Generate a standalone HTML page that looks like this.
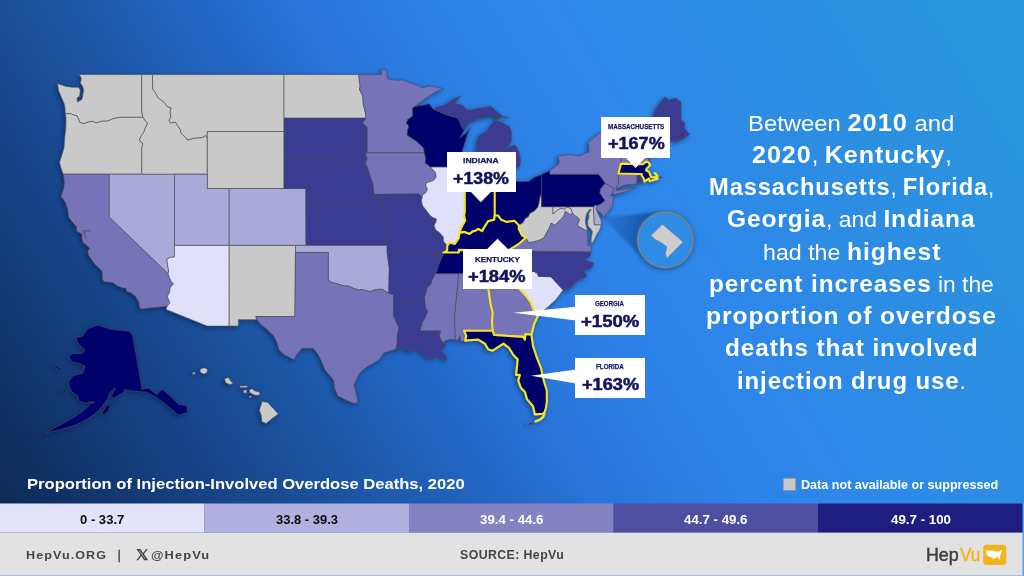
<!DOCTYPE html>
<html lang="en"><head><meta charset="utf-8"><title>HepVu – Injection-Involved Overdose Deaths, 2020</title>
<style>
html,body{margin:0;padding:0}
body{width:1024px;height:576px;overflow:hidden;position:relative;font-family:"Liberation Sans",sans-serif;background:#2a80e0}
#bg{position:absolute;left:0;top:0;width:1024px;height:576px;
 background:linear-gradient(59deg,#0b2450 0%,#0e2b5a 4%,#143c7a 15%,#1a4f99 26%,#2367c6 40%,#2975d9 47%,#2c80e5 55%,#2e86ea 63%,#2c8de2 79%,#2a98dc 100%);}
svg#map{position:absolute;left:0;top:0}
.t{position:absolute;white-space:nowrap;line-height:1;transform-origin:0 0}
.r{font-weight:400;font-size:22.5px;letter-spacing:0}
.cb{position:absolute;background:#fff;color:#15155e;text-align:center;font-weight:700}
</style></head><body>
<div id="bg"></div>
<svg id="map" width="1024" height="576" viewBox="0 0 1024 576">
<defs>
<filter id="sh" x="-5%" y="-5%" width="110%" height="110%"><feDropShadow dx="-1.5" dy="1.5" stdDeviation="2.2" flood-color="#061a45" flood-opacity=".6"/></filter>
<linearGradient id="wedge" x1="0" y1="0" x2="1" y2="0"><stop offset="0" stop-color="#0c2a66" stop-opacity=".12"/><stop offset="1" stop-color="#0c2a66" stop-opacity=".6"/></linearGradient>
<filter id="bl" x="-10%" y="-10%" width="120%" height="120%"><feGaussianBlur stdDeviation=".9"/></filter>
<filter id="sh2" x="-30%" y="-30%" width="160%" height="160%"><feDropShadow dx="-.6" dy="1" stdDeviation="2.4" flood-color="#06224f" flood-opacity=".65"/></filter>
</defs>
<g filter="url(#sh)">
<g stroke="#4a4a55" stroke-width="0.6" stroke-linejoin="round">
<path d="M79.1,74.6 141.7,74.6 141.7,111.3 143.0,117.3 120.2,117.3 113.7,118.5 107.1,121.2 102.2,121.2 96.2,122.9 92.9,121.3 88.5,121.9 84.1,123.7 79.5,122.3 78.6,119.2 77.0,115.9 74.3,115.2 70.4,113.6 65.3,113.8 65.0,108.1 64.2,103.8 61.7,98.1 58.4,90.3 57.6,83.5 65.5,86.3 72.1,87.2 78.6,87.2 80.3,90.3 79.7,96.0 77.0,98.1 77.5,102.0 81.9,99.5 82.8,95.3 83.6,90.3 82.5,86.0 80.3,83.2 81.4,78.2Z" fill="#c9c9c9"/>
<path d="M65.3,113.8 70.4,113.6 74.3,115.2 77.0,115.9 78.6,119.2 79.5,122.3 84.1,123.7 88.5,121.9 92.9,121.3 96.2,122.9 102.2,121.2 107.1,121.2 113.7,118.5 120.2,117.3 143.0,117.3 144.6,119.9 147.6,123.0 145.4,128.0 143.8,132.3 141.6,135.1 139.7,139.4 140.5,141.8 142.9,143.2 141.8,148.2 141.8,174.2 109.3,174.2 63.2,174.2 61.1,168.5 59.5,162.3 61.7,155.7 64.1,147.2 64.7,137.2 65.8,128.7 66.0,118.7Z" fill="#c9c9c9"/>
<path d="M63.2,174.2 109.3,174.2 109.3,216.9 168.1,273.8 170.8,281.0 173.5,283.8 170.3,287.4 169.3,292.8 167.3,296.6 169.9,302.7 167.1,306.3 140.8,309.0 139.4,306.6 138.9,302.3 135.6,296.6 130.1,292.3 126.8,291.6 125.7,288.1 122.4,288.1 117.5,285.9 112.6,282.4 104.2,281.7 102.4,279.5 102.2,271.7 100.0,268.9 95.1,264.6 88.5,255.4 87.9,251.1 89.6,248.2 87.4,246.1 83.0,242.5 81.9,238.3 81.9,234.0 76.7,231.2 76.5,226.9 68.8,217.6 67.7,209.8 65.5,202.7 61.1,196.4 63.9,187.8 64.4,181.4Z" fill="#7673b8"/>
<path d="M109.3,174.2 141.8,174.2 174.6,174.2 174.5,245.4 174.5,256.8 170.6,257.5 166.9,258.9 167.6,265.3 168.8,271.0 168.1,273.8 109.3,216.9Z" fill="#aaaad9"/>
<path d="M141.7,74.6 152.6,74.6 152.6,88.9 155.8,93.1 157.7,97.4 164.6,102.7 167.3,106.6 171.3,108.1 170.1,111.6 170.8,117.3 169.0,120.9 170.6,123.0 175.5,122.2 177.7,125.9 180.5,129.8 181.0,133.0 185.4,137.2 187.6,140.1 194.2,138.1 202.4,137.5 205.7,135.4 207.3,138.7 207.3,174.2 174.6,174.2 141.8,174.2 141.8,148.2 142.9,143.2 140.5,141.8 139.7,139.4 141.6,135.1 143.8,132.3 145.4,128.0 147.6,123.0 144.6,119.9 143.0,117.3 141.7,111.3Z" fill="#c9c9c9"/>
<path d="M152.6,74.6 284.0,74.6 284.0,118.2 284.0,131.5 207.3,131.5 207.3,138.7 205.7,135.4 202.4,137.5 194.2,138.1 187.6,140.1 185.4,137.2 181.0,133.0 180.5,129.8 177.7,125.9 175.5,122.2 170.6,123.0 169.0,120.9 170.8,117.3 170.1,111.6 171.3,108.1 167.3,106.6 164.6,102.7 157.7,97.4 155.8,93.1 152.6,88.9Z" fill="#c9c9c9"/>
<path d="M207.3,138.7 207.3,131.5 284.0,131.5 284.0,160.0 284.0,188.5 229.2,188.5 207.3,188.5 207.3,174.2Z" fill="#c9c9c9"/>
<path d="M174.6,174.2 207.3,174.2 207.3,188.5 229.2,188.5 229.2,245.4 174.5,245.4Z" fill="#aaaad9"/>
<path d="M174.5,245.4 229.2,245.4 229.2,326.1 207.1,326.1 166.1,309.4 167.1,306.3 169.9,302.7 167.3,296.6 169.3,292.8 170.3,287.4 173.5,283.8 170.8,281.0 168.1,273.8 168.8,271.0 167.6,265.3 166.9,258.9 170.6,257.5 174.5,256.8Z" fill="#e0e0fa"/>
<path d="M229.2,188.5 284.0,188.5 305.9,188.5 305.9,202.7 306.0,245.4 295.5,245.4 229.2,245.4Z" fill="#aaaad9"/>
<path d="M229.2,245.4 295.5,245.4 295.5,252.5 294.9,316.5 255.8,316.5 256.8,319.7 238.4,319.7 238.4,326.1 229.2,326.1Z" fill="#c9c9c9"/>
<path d="M284.0,74.6 358.6,74.6 360.1,86.0 359.5,89.6 362.8,96.0 363.3,104.5 365.5,113.1 366.0,118.2 284.0,118.2Z" fill="#c9c9c9"/>
<path d="M284.0,118.2 366.0,118.2 362.8,123.0 367.2,127.3 367.2,152.9 365.5,153.6 367.2,158.6 365.5,162.9 367.2,167.1 362.2,164.0 356.8,161.9 350.2,163.3 344.7,160.0 284.0,160.0 284.0,131.5Z" fill="#3b3a92"/>
<path d="M284.0,160.0 344.7,160.0 350.2,163.3 356.8,161.9 362.2,164.0 367.2,167.1 368.8,171.4 371.0,178.5 373.2,184.2 373.7,189.9 374.6,194.4 377.0,198.4 379.7,202.7 305.9,202.7 305.9,188.5 284.0,188.5Z" fill="#3b3a92"/>
<path d="M305.9,202.7 379.7,202.7 384.1,206.3 382.0,209.1 384.1,211.9 387.3,215.5 387.2,245.4 306.0,245.4Z" fill="#3b3a92"/>
<path d="M306.0,245.4 387.2,245.4 387.2,252.5 389.3,268.2 388.7,293.2 382.0,289.2 376.5,289.5 369.9,291.6 365.5,290.5 361.7,289.5 359.0,290.2 353.5,288.4 349.1,286.2 343.6,285.9 337.1,283.8 331.6,282.4 328.3,280.1 328.3,252.5 295.5,252.5 295.5,245.4Z" fill="#aaaad9"/>
<path d="M295.5,252.5 328.3,252.5 328.3,280.1 331.6,282.4 337.1,283.8 343.6,285.9 349.1,286.2 353.5,288.4 359.0,290.2 361.7,289.5 365.5,290.5 369.9,291.6 376.5,289.5 382.0,289.2 388.7,293.2 393.6,294.5 393.6,302.0 393.6,316.5 395.6,320.1 398.9,327.9 397.3,336.5 397.3,343.6 395.8,349.3 388.5,351.4 384.1,352.8 379.8,359.2 373.2,363.5 366.6,367.1 360.6,372.0 357.3,377.7 354.0,384.8 356.8,396.2 357.9,402.9 353.5,403.3 346.9,400.5 338.2,396.2 334.3,387.7 333.8,380.6 325.0,369.9 321.2,360.7 317.9,354.2 313.0,348.3 302.0,348.3 297.1,354.2 293.8,359.7 284.5,355.0 279.0,350.0 276.8,342.2 273.5,335.8 267.0,329.6 260.4,324.1 256.8,319.7 255.8,316.5 294.9,316.5Z" fill="#7673b8"/>
<path d="M358.6,74.6 381.4,74.6 381.4,69.2 386.3,70.4 387.4,78.9 396.2,80.3 402.8,79.9 410.4,83.2 415.9,84.6 422.5,87.9 429.0,86.0 437.8,87.4 443.4,88.7 434.5,92.4 426.9,97.4 419.2,103.1 414.8,106.6 412.7,107.9 412.7,116.3 407.7,119.5 406.3,123.0 408.8,125.9 407.7,130.1 407.1,135.1 412.6,138.7 417.0,141.5 423.6,147.9 424.4,152.9 367.2,152.9 367.2,127.3 362.8,123.0 366.0,118.2 365.5,113.1 363.3,104.5 362.8,96.0 359.5,89.6 360.1,86.0Z" fill="#7673b8"/>
<path d="M367.2,152.9 424.4,152.9 425.8,158.6 425.2,162.9 430.7,167.1 435.6,172.8 436.2,177.1 433.4,180.6 426.3,182.8 425.8,185.6 427.4,189.2 425.8,192.7 422.5,194.9 422.3,197.3 418.9,194.0 374.6,194.4 373.7,189.9 373.2,184.2 371.0,178.5 368.8,171.4 367.2,167.1 365.5,162.9 367.2,158.6 365.5,153.6Z" fill="#7673b8"/>
<path d="M374.6,194.4 418.9,194.0 422.3,197.3 421.4,199.9 421.9,203.4 423.0,206.3 426.3,210.5 430.1,215.5 432.9,217.6 436.5,219.1 435.8,222.2 434.0,225.5 435.6,229.7 439.4,232.6 443.3,236.9 443.3,241.1 447.3,245.7 447.1,250.4 444.4,252.5 443.3,252.5 442.7,256.1 441.1,259.6 433.7,259.6 436.2,252.5 387.2,252.5 387.2,245.4 387.3,215.5 384.1,211.9 382.0,209.1 384.1,206.3 379.7,202.7 377.0,198.4Z" fill="#3b3a92"/>
<path d="M387.2,252.5 436.2,252.5 433.7,259.6 441.1,259.6 438.3,266.0 436.7,272.0 434.5,273.8 434.5,276.0 431.8,280.3 431.2,283.8 426.9,288.1 425.8,293.8 424.7,296.6 425.0,302.3 393.6,302.0 393.6,294.5 388.7,293.2 389.3,268.2Z" fill="#3b3a92"/>
<path d="M393.6,302.0 425.0,302.3 425.8,308.0 427.9,311.6 425.8,316.5 422.5,322.2 421.4,326.5 420.0,330.8 440.8,330.8 439.4,335.8 441.6,340.7 443.1,342.4 441.6,342.9 445.5,344.3 444.4,347.8 440.5,350.0 442.2,352.8 445.5,355.0 447.1,359.2 444.4,359.9 438.3,355.0 435.6,357.8 427.9,358.5 423.6,355.0 417.5,348.6 414.8,350.7 409.3,351.0 402.8,348.3 395.8,349.3 397.3,343.6 397.3,336.5 398.9,327.9 395.6,320.1 393.6,316.5Z" fill="#3b3a92"/>
<path d="M433.2,109.2 429.0,103.8 424.7,104.9 414.8,106.6 412.7,107.9 412.7,116.3 407.7,119.5 406.3,123.0 408.8,125.9 407.7,130.1 407.1,135.1 412.6,138.7 417.0,141.5 423.6,147.9 424.4,152.9 425.8,158.6 425.2,162.9 430.7,167.1 461.9,167.1 460.8,157.2 463.0,148.6 465.2,141.5 467.4,134.4 470.6,127.3 466.3,133.0 459.7,138.0 464.1,130.1 461.3,125.9 458.1,118.0 447.7,115.3Z" fill="#05056b"/>
<path d="M430.7,167.1 461.9,167.1 464.1,176.4 464.8,178.5 464.8,211.9 464.1,215.5 465.2,220.5 462.4,225.5 459.7,231.2 459.2,234.0 458.6,238.3 454.8,244.0 449.8,242.5 447.3,245.7 443.3,241.1 443.3,236.9 439.4,232.6 435.6,229.7 434.0,225.5 435.8,222.2 436.5,219.1 432.9,217.6 430.1,215.5 426.3,210.5 423.0,206.3 421.9,203.4 421.4,199.9 422.3,197.3 422.5,194.9 425.8,192.7 427.4,189.2 425.8,185.6 426.3,182.8 433.4,180.6 436.2,177.1 435.6,172.8Z" fill="#e0e0fa"/>
<path d="M509.5,178.1 512.3,174.2 513.4,170.7 515.5,169.3 519.9,165.7 520.5,160.0 518.8,151.5 515.0,144.8 510.1,147.2 504.6,150.8 511.2,141.5 511.2,131.5 509.5,126.6 501.3,122.6 495.3,120.5 492.6,123.0 488.7,128.0 486.5,134.4 486.0,131.5 478.9,135.8 476.7,145.8 476.1,151.5 478.9,164.3 476.1,172.8 472.6,177.7 494.7,177.7ZM433.2,109.2 447.7,115.3 458.1,118.0 461.3,125.9 464.1,130.1 466.8,125.9 470.1,121.3 473.4,121.9 475.6,119.2 478.6,118.7 482.7,118.0 488.2,116.2 492.6,117.3 496.4,119.2 500.2,117.7 504.0,117.7 508.4,117.3 503.5,116.8 500.2,114.2 496.7,111.6 493.2,108.5 491.5,106.5 484.2,107.4 475.8,108.8 471.7,110.2 466.2,109.4 463.0,105.5 459.7,104.5 455.0,103.9 457.1,99.7 461.2,96.3 456.4,97.7 452.3,99.7 447.7,103.4 443.9,105.4 438.9,106.6Z" fill="#3b3a92"/>
<path d="M494.7,177.7 509.5,178.1 514.5,181.4 517.7,181.4 525.4,181.4 528.7,181.4 534.2,177.4 541.6,174.5 541.6,193.6 540.2,197.0 539.1,202.7 538.0,207.0 534.2,211.2 530.3,213.1 528.1,216.9 525.4,218.4 523.2,222.6 518.8,225.2 514.5,220.8 506.8,221.9 501.3,219.8 498.0,215.5 494.7,215.5Z" fill="#05056b"/>
<path d="M443.3,252.5 458.9,252.5 458.9,249.9 507.0,251.1 528.9,251.2 526.5,255.4 523.2,257.5 518.8,258.9 515.5,260.3 513.4,262.9 509.0,265.7 503.5,268.2 500.2,271.0 500.0,273.8 486.0,273.8 457.5,273.8 434.5,273.8 436.7,272.0 438.3,266.0 441.1,259.6 442.7,256.1Z" fill="#05056b"/>
<path d="M434.5,273.8 457.5,273.8 458.6,275.3 454.6,318.0 455.3,339.7 450.4,339.3 445.5,340.7 443.1,342.4 441.6,340.7 439.4,335.8 440.8,330.8 420.0,330.8 421.4,326.5 422.5,322.2 425.8,316.5 427.9,311.6 425.8,308.0 425.0,302.3 424.7,296.6 425.8,293.8 426.9,288.1 431.2,283.8 431.8,280.3 434.5,276.0Z" fill="#7673b8"/>
<path d="M457.5,273.8 486.0,273.8 490.6,304.2 492.6,312.3 492.0,322.2 492.6,330.8 464.1,330.8 466.3,335.8 465.2,340.7 460.8,341.4 459.7,335.8 458.6,340.0 455.3,339.7 454.6,318.0 458.6,275.3Z" fill="#7673b8"/>
<path d="M513.4,273.8 521.0,271.0 535.8,271.7 535.8,273.1 537.1,272.4 538.5,276.4 550.9,276.7 563.2,289.9 556.1,299.5 548.4,306.6 542.4,311.6 538.0,315.8 534.7,313.7 530.9,302.3 525.4,295.2 518.8,288.1 513.4,281.0 510.6,278.1Z" fill="#e0e0fa"/>
<path d="M528.9,251.2 590.8,251.8 590.1,256.1 584.1,259.8 593.2,262.8 593.2,265.9 589.6,268.9 583.4,271.0 587.0,276.1 584.5,277.8 578.6,279.8 573.6,284.5 568.9,289.5 563.2,289.9 550.9,276.7 538.5,276.4 537.1,272.4 535.8,273.1 535.8,271.7 521.0,271.0 513.4,273.8 500.0,273.8 500.2,271.0 503.5,268.2 509.0,265.7 513.4,262.9 515.5,260.3 518.8,258.9 523.2,257.5 526.5,255.4Z" fill="#3b3a92"/>
<path d="M507.0,251.1 517.7,244.7 525.7,237.7 528.9,242.5 533.8,241.8 538.0,240.4 541.8,239.0 544.0,237.6 547.3,231.2 549.5,227.3 551.1,223.0 555.0,225.2 559.7,220.2 563.2,216.9 565.4,211.2 571.1,215.1 572.2,212.4 574.7,215.5 578.0,217.4 579.7,219.8 577.4,225.5 580.7,227.6 587.6,231.2 587.8,238.3 587.8,245.4 591.3,246.8 590.8,251.8 528.9,251.2Z" fill="#7673b8"/>
<path d="M518.8,225.2 523.2,222.6 525.4,218.4 528.1,216.9 530.3,213.1 534.2,211.2 538.0,207.0 539.1,202.7 540.2,197.0 541.6,193.6 541.6,206.7 553.0,206.7 553.0,214.1 557.2,210.2 560.9,208.1 564.3,209.1 567.2,207.0 570.8,208.4 572.2,212.4 571.1,215.1 565.4,211.2 563.2,216.9 559.7,220.2 555.0,225.2 551.1,223.0 549.5,227.3 547.3,231.2 544.0,237.6 541.8,239.0 538.0,240.4 533.8,241.8 528.9,242.5 525.7,237.7 522.1,235.4 518.8,229.0Z" fill="#c9c9c9"/>
<path d="M553.0,206.7 593.4,206.7 594.4,224.8 601.5,224.8 599.3,230.7 597.9,232.6 595.5,236.9 593.5,241.1 591.9,243.7 591.1,241.8 591.3,237.6 592.4,231.9 590.9,229.0 588.0,226.2 587.6,221.2 588.9,217.6 588.7,213.4 591.1,209.8 590.0,209.1 586.5,214.1 585.8,217.6 585.4,222.6 586.5,226.9 587.6,231.2 580.7,227.6 577.4,225.5 579.7,219.8 578.0,217.4 574.7,215.5 572.2,212.4 570.8,208.4 567.2,207.0 564.3,209.1 560.9,208.1 557.2,210.2 553.0,214.1Z" fill="#c9c9c9"/>
<path d="M593.4,206.7 595.5,205.1 597.5,205.5 596.0,208.4 597.7,212.7 601.0,219.8 601.5,224.8 594.4,224.8Z" fill="#aaaad9"/>
<path d="M605.3,183.3 601.3,177.5 598.2,174.2 549.9,174.2 549.9,170.4 541.6,174.5 541.6,193.6 541.6,206.7 553.0,206.7 593.4,206.7 595.5,205.1 597.5,205.5 601.0,204.1 605.1,200.6 602.6,197.0 599.9,193.0 600.6,188.9Z" fill="#05056b"/>
<path d="M605.3,183.3 600.6,188.9 599.9,193.0 602.6,197.0 605.1,200.6 601.0,204.1 597.5,205.5 596.0,207.7 596.6,209.8 602.0,214.1 603.1,217.9 608.6,211.2 612.5,205.5 613.0,196.3 610.3,195.6 612.5,193.5 614.1,188.5Z" fill="#7673b8"/>
<path d="M620.1,131.5 604.8,131.5 598.8,133.7 587.8,142.9 588.9,144.4 588.9,152.2 585.6,152.9 580.1,156.0 569.2,154.7 557.7,156.3 559.3,161.4 558.2,164.3 549.9,170.4 549.9,174.2 598.2,174.2 601.3,177.5 605.3,183.3 614.1,188.5 613.0,192.7 613.0,194.4 615.7,194.2 625.0,192.0 636.0,187.5 630.5,188.5 628.3,188.8 621.8,189.5 615.7,190.6 616.8,188.5 616.0,187.0 618.7,184.2 618.5,173.5 621.0,163.6 621.2,152.2 620.7,150.8 619.6,138.7Z" fill="#7673b8"/>
<path d="M618.5,173.5 637.1,174.0 637.1,182.8 636.5,183.9 625.0,184.9 616.8,188.5 616.0,187.0 618.7,184.2Z" fill="#7673b8"/>
<path d="M637.1,174.0 641.7,174.0 641.7,175.7 643.7,178.5 644.5,181.4 641.5,182.1 636.5,183.9 637.1,182.8Z" fill="#3b3a92"/>
<path d="M620.1,131.5 640.4,131.5 639.3,138.7 634.4,144.4 631.6,151.5 630.0,160.0 628.9,163.9 621.0,163.6 621.2,152.2 620.7,150.8 619.6,138.7Z" fill="#7673b8"/>
<path d="M640.4,131.5 642.6,127.3 645.0,127.3 645.9,138.7 646.2,154.3 648.0,158.6 649.1,159.0 647.8,161.9 645.9,161.9 642.6,164.3 628.9,163.9 630.0,160.0 631.6,151.5 634.4,144.4 639.3,138.7Z" fill="#7673b8"/>
<path d="M645.0,127.3 652.4,120.2 654.1,113.1 656.8,107.4 665.2,96.5 668.8,100.5 675.4,98.0 680.9,102.1 680.9,120.2 684.7,123.0 684.7,128.7 689.6,134.4 683.1,138.7 676.5,141.5 669.9,140.1 667.8,144.4 659.0,149.3 654.6,151.5 651.3,155.7 649.1,159.0 648.0,158.6 646.2,154.3 645.9,138.7Z" fill="#3b3a92"/>
<path d="M97.9,325.0 110.2,329.1 129.4,331.3 132.7,336.0 142.2,389.3 148.5,387.9 156.7,394.8 162.2,389.3 171.8,397.5 178.6,404.3 186.8,405.7 187.4,412.5 178.6,415.3 169.0,407.1 162.2,401.6 154.0,396.1 145.8,392.0 137.6,391.5 129.4,390.7 125.3,389.3 122.5,393.4 117.1,396.1 113.0,398.9 111.6,394.8 115.7,387.9 110.2,392.0 107.5,398.9 102.6,405.7 99.3,410.1 92.5,415.6 85.6,419.9 76.6,424.6 67.9,427.6 58.8,430.0 46.3,432.5 56.9,426.5 66.5,421.6 76.6,415.6 84.3,409.8 90.8,403.8 94.4,402.4 92.5,401.6 85.6,403.0 78.8,401.6 77.4,396.1 72.0,392.0 69.2,386.6 68.7,381.6 73.3,375.6 82.9,373.4 84.8,366.1 78.8,363.3 72.0,362.0 68.7,356.5 73.3,353.2 81.5,353.8 85.1,350.5 81.5,346.9 77.4,342.3 76.1,337.3 82.9,336.0 87.0,329.1ZM102.0,412.5 107.5,404.3 110.2,406.3 108.1,411.2 103.4,415.3ZM54.7,365.5 61.0,368.2 60.5,370.2 55.0,367.4ZM62.9,389.8 66.5,389.8 66.5,391.8 62.9,391.8Z" fill="#05056b"/>
<path d="M200.5,368.8 204.6,367.7 207.6,369.6 206.8,372.9 203.2,374.0 199.9,371.8ZM192.3,372.9 195.0,371.8 195.3,373.4 192.8,374.8ZM224.5,378.9 228.4,377.3 231.1,381.6 233.3,383.3 230.0,384.7 225.6,382.7ZM239.6,386.0 247.0,385.7 247.5,387.4 240.4,387.7ZM243.4,390.1 246.7,390.1 246.7,392.9 243.7,392.9ZM249.1,389.8 252.4,388.8 254.6,390.9 259.5,392.0 260.1,394.8 255.7,395.6 252.4,393.9 249.7,392.6ZM249.1,396.1 251.6,395.9 251.6,397.5 249.4,397.8ZM262.0,401.6 267.5,402.2 278.4,413.9 272.9,418.0 266.1,423.5 261.7,421.6 261.2,415.3 259.3,410.6Z" fill="#c9c9c9"/>
<path d="M82.4,230.8 L90.6,230.8 M83.8,231.4 L86.3,238.4" fill="none" stroke-width=".8"/>
<g fill="#7a1f2a" stroke="none"><ellipse cx="656.2" cy="176.2" rx="1.6" ry=".8"/><ellipse cx="660.6" cy="177.3" rx="1.5" ry=".8"/><ellipse cx="682.3" cy="134.5" rx="1" ry="1.4"/><ellipse cx="530.7" cy="423.8" rx="2.2" ry=".9" transform="rotate(-25 530.7 423.8)"/><circle cx="524.2" cy="425.2" r=".6"/></g>
<g fill="#05056b" stroke-width=".4"><ellipse cx="44" cy="432.6" rx="2" ry=".6"/><ellipse cx="38.5" cy="433.6" rx="1.6" ry=".5"/><ellipse cx="32.5" cy="434.3" rx="1.6" ry=".5"/><ellipse cx="28" cy="434.6" rx="1.2" ry=".5"/></g>
</g>
<g stroke="#f6e71b" stroke-width="2.1" stroke-linejoin="round">
<path d="M472.6,177.7 494.7,177.7 494.7,215.5 494.2,219.8 488.2,221.2 484.3,227.3 482.1,231.2 478.3,229.0 476.1,230.4 472.8,231.4 469.6,234.0 464.1,231.9 460.8,232.6 459.2,234.0 459.7,231.2 462.4,225.5 465.2,220.5 464.1,215.5 464.8,211.9 464.8,178.5 468.5,179.2Z" fill="#05056b"/>
<path d="M459.2,234.0 460.8,232.6 464.1,231.9 469.6,234.0 472.8,231.4 476.1,230.4 478.3,229.0 482.1,231.2 484.3,227.3 488.2,221.2 494.2,219.8 494.7,215.5 498.0,215.5 501.3,219.8 506.8,221.9 514.5,220.8 518.8,225.2 518.8,229.0 522.1,235.4 525.7,237.7 517.7,244.7 507.0,251.1 458.9,249.9 458.9,252.5 443.3,252.5 444.4,252.5 447.1,250.4 447.3,245.7 449.8,242.5 454.8,244.0 458.6,238.3Z" fill="#05056b"/>
<path d="M621.0,163.6 628.9,163.9 642.6,164.3 645.9,161.9 647.8,161.9 650.2,165.0 646.9,168.5 645.9,170.0 649.1,172.1 650.2,175.0 651.3,177.4 656.8,177.1 655.7,173.5 654.6,173.1 657.3,175.7 657.3,178.9 649.7,181.1 649.1,178.5 644.5,181.4 643.7,178.5 641.7,175.7 641.7,174.0 637.1,174.0 618.5,173.5Z" fill="#05056b"/>
<path d="M486.0,273.8 500.0,273.8 513.4,273.8 510.6,278.1 513.4,281.0 518.8,288.1 525.4,295.2 530.9,302.3 534.7,313.7 538.0,315.8 534.2,323.7 531.4,334.8 525.4,334.3 524.9,339.7 523.2,336.9 494.1,335.0 492.6,330.8 492.0,322.2 492.6,312.3 490.6,304.2Z" fill="#7673b8"/>
<path d="M465.2,340.7 466.3,335.8 464.1,330.8 492.6,330.8 494.1,335.0 523.2,336.9 524.9,339.7 525.4,334.3 531.4,334.8 533.1,346.4 537.4,359.2 540.9,367.8 543.7,380.6 546.8,390.5 546.9,401.2 546.0,407.6 544.8,411.7 542.9,413.7 534.9,414.4 533.1,406.2 527.0,399.1 525.0,392.0 520.8,387.7 518.3,380.6 519.9,374.9 516.1,374.9 517.2,364.9 517.7,359.2 513.4,355.0 509.0,347.8 503.5,343.6 499.1,346.4 492.6,350.7 488.2,349.3 484.9,343.6 478.3,339.6 468.5,340.3Z" fill="#05056b"/>
<path d="M544.4,413.6 Q543.6,419 535.8,421.3" fill="none" stroke-width="2.3" stroke-linecap="round"/>
</g></g>
<!-- legend + footer -->
<rect x="783.2" y="478.2" width="12.6" height="12.4" rx="1.2" fill="#c9c9c9" stroke="#8b8f96" stroke-width=".9"/>
<g>
<rect x="0" y="503.5" width="204.5" height="29.2" fill="#e3e3fb"/>
<rect x="204.5" y="503.5" width="204.5" height="29.2" fill="#b1b0de"/>
<rect x="409" y="503.5" width="204.5" height="29.2" fill="#8482c0"/>
<rect x="613.5" y="503.5" width="204.5" height="29.2" fill="#504e9e"/>
<rect x="818" y="503.5" width="204.7" height="29.2" fill="#1f1e80"/>
<rect x="0" y="532.7" width="1022.7" height="42.3" fill="#e2e2e2"/>
<rect x="0" y="575" width="1024" height="1" fill="#a6bfdf"/>
<rect x="1022.7" y="503.5" width="1.3" height="72.5" fill="#63a5ec"/>
</g>
<!-- X logo -->
<path transform="translate(136.1,548.4) scale(.515,.56)" d="M0.5,1 L8.6,1 L13.6,8 L19.6,1 L23,1 L15.2,10.2 L23.6,21 L15.5,21 L10.2,13.6 L3.8,21 L0.4,21 L8.6,11.4 Z M5.6,3.4 L16.9,18.6 L18.0,18.6 L6.7,3.4 Z" fill="#444" fill-rule="evenodd"/>
<!-- HepVu badge -->
<rect x="983.2" y="544.8" width="23" height="20.1" rx="3.2" fill="#f3b41b"/>
<path transform="translate(986,549.6) scale(.0865,.1)" d="M6,8 L60,10 L100,14 L118,22 L132,18 L150,22 L160,14 L178,2 L188,6 L184,22 L172,34 L176,44 L164,56 L158,72 L164,98 L156,100 L146,78 L120,76 L104,84 L92,100 L80,82 L62,80 L40,72 L14,62 L2,34 Z" fill="#fff"/>
<!-- DC callout -->
<path d="M603,217.6 L660,212 A28.3,28.3 0 0 0 644,260 Z" fill="url(#wedge)" filter="url(#bl)"/>
<circle cx="665.4" cy="240" r="27.6" fill="#2f8be6" stroke="#7b7f86" stroke-width="1.6" filter="url(#sh2)"/>
<path d="M662.5,224.3 L683.1,242 L666.9,258.3 L665.4,253.5 L666.9,246.8 L660.2,242 L655.4,239.6 L651,235.4 Z" fill="#cdcdcd" stroke="#7d7d7d" stroke-width=".6"/>
<!-- callout pointers -->
<g fill="#fff">
<path d="M470,191 L491.9,191 L480.8,202.3Z"/>
<path d="M625,157 L646,157 L635.6,168Z"/>
<path d="M486.7,249.5 L508.5,249.5 L497.5,238.7Z"/>
<path d="M576,306.7 L576,320.6 L513.3,312.7Z"/>
<path d="M576,369.6 L576,383.5 L531,375.8Z"/>
</g>
</svg>

<div class="cb" style="left:447.1px;top:151.5px;width:68.7px;height:40px"></div>
<div class="cb" style="left:601.2px;top:117px;width:68.8px;height:40.7px"></div>
<div class="cb" style="left:462.7px;top:249.2px;width:69.2px;height:40.2px"></div>
<div class="cb" style="left:575.4px;top:294.6px;width:69.6px;height:40.2px"></div>
<div class="cb" style="left:575.4px;top:357.7px;width:69.6px;height:40px"></div>




<div class="t" style="left:748.4px;top:110.58px;font-size:24px;font-weight:700;color:#fff;letter-spacing:.9px;transform:scaleX(1.0604)"><span class="r">Between </span>2010<span class="r"> and</span></div>
<div class="t" style="left:751.8px;top:142.84px;font-size:24px;font-weight:700;color:#fff;letter-spacing:.9px;transform:scaleX(1.0461)">2020<span class="r">, </span>Kentucky<span class="r">,</span></div>
<div class="t" style="left:709.0px;top:175.10px;font-size:24px;font-weight:700;color:#fff;letter-spacing:.9px;transform:scaleX(0.9876)">Massachusetts<span class="r">, </span>Florida<span class="r">,</span></div>
<div class="t" style="left:727.2px;top:207.36px;font-size:24px;font-weight:700;color:#fff;letter-spacing:.9px;transform:scaleX(1.0202)">Georgia<span class="r">, and </span>Indiana</div>
<div class="t" style="left:762.6px;top:239.62px;font-size:24px;font-weight:700;color:#fff;letter-spacing:.9px;transform:scaleX(1.0316)"><span class="r">had the </span>highest</div>
<div class="t" style="left:709.0px;top:271.88px;font-size:24px;font-weight:700;color:#fff;letter-spacing:.9px;transform:scaleX(1.0146)">percent increases<span class="r"> in the</span></div>
<div class="t" style="left:706.1px;top:304.14px;font-size:24px;font-weight:700;color:#fff;letter-spacing:.9px;transform:scaleX(1.0247)">proportion of overdose</div>
<div class="t" style="left:724.7px;top:336.40px;font-size:24px;font-weight:700;color:#fff;letter-spacing:.9px;transform:scaleX(1.0135)">deaths that involved</div>
<div class="t" style="left:737.0px;top:368.66px;font-size:24px;font-weight:700;color:#fff;letter-spacing:.9px;transform:scaleX(0.9980)">injection drug use<span class="r">.</span></div>
<div class="t" style="left:26.8px;top:476.28px;font-size:15.5px;font-weight:700;color:#fff;transform:scaleX(1.0698)">Proportion of Injection-Involved Overdose Deaths, 2020</div>
<div class="t" style="left:801.3px;top:478.97px;font-size:12.2px;font-weight:700;color:#fff;transform:scaleX(1.0324)">Data not available or suppressed</div>
<div class="t" style="left:80.0px;top:513.87px;font-size:12.2px;font-weight:700;color:#0a0a0a;transform:scaleX(1.0715)">0 - 33.7</div>
<div class="t" style="left:276.0px;top:513.87px;font-size:12.2px;font-weight:700;color:#0a0a0a;transform:scaleX(1.0638)">33.8 - 39.3</div>
<div class="t" style="left:479.5px;top:513.87px;font-size:12.2px;font-weight:700;color:#fff;transform:scaleX(1.0895)">39.4 - 44.6</div>
<div class="t" style="left:684.0px;top:513.87px;font-size:12.2px;font-weight:700;color:#fff;transform:scaleX(1.0895)">44.7 - 49.6</div>
<div class="t" style="left:890.5px;top:513.87px;font-size:12.2px;font-weight:700;color:#fff;transform:scaleX(1.0931)">49.7 - 100</div>
<div class="t" style="left:26.3px;top:549.61px;font-size:11.8px;font-weight:700;color:#444;letter-spacing:1px;transform:scaleX(1.0656)">HepVu.ORG</div>
<div class="t" style="left:117.7px;top:549.04px;font-size:12px;font-weight:700;color:#444;-webkit-text-stroke:.5px #444;transform:scaleX(0.7144)">|</div>
<div class="t" style="left:151.3px;top:549.61px;font-size:11.8px;font-weight:700;color:#444;letter-spacing:1px;transform:scaleX(1.0891)">@HepVu</div>
<div class="t" style="left:460.0px;top:549.24px;font-size:12px;font-weight:700;color:#444;letter-spacing:.4px;transform:scaleX(1.0273)">SOURCE: HepVu</div>
<div class="t" style="left:925.9px;top:547.13px;font-size:17.8px;font-weight:400;color:#3e3e3e;-webkit-text-stroke:.45px #3e3e3e;transform:scaleX(1.0023)">Hep</div>
<div class="t" style="left:959.5px;top:547.13px;font-size:17.8px;font-weight:400;color:#f3b41b;-webkit-text-stroke:.45px #f3b41b;transform:scaleX(0.9624)">Vu</div>
<div class="t" style="left:463.1px;top:156.54px;font-size:8.1px;font-weight:700;color:#13135c;-webkit-text-stroke:.25px #13135c;transform:scaleX(1.0583)">INDIANA</div>
<div class="t" style="left:453.3px;top:169.59px;font-size:16.2px;font-weight:700;color:#13135c;-webkit-text-stroke:.5px #13135c;transform:scaleX(1.0991)">+138%</div>
<div class="t" style="left:607.5px;top:122.74px;font-size:8.1px;font-weight:700;color:#13135c;-webkit-text-stroke:.25px #13135c;transform:scaleX(0.7727)">MASSACHUSETTS</div>
<div class="t" style="left:607.5px;top:135.39px;font-size:16.2px;font-weight:700;color:#13135c;-webkit-text-stroke:.5px #13135c;transform:scaleX(1.1148)">+167%</div>
<div class="t" style="left:474.8px;top:256.04px;font-size:8.1px;font-weight:700;color:#13135c;-webkit-text-stroke:.25px #13135c;transform:scaleX(0.9962)">KENTUCKY</div>
<div class="t" style="left:468.3px;top:268.49px;font-size:16.2px;font-weight:700;color:#13135c;-webkit-text-stroke:.5px #13135c;transform:scaleX(1.1306)">+184%</div>
<div class="t" style="left:595.2px;top:300.44px;font-size:8.1px;font-weight:700;color:#13135c;-webkit-text-stroke:.25px #13135c;transform:scaleX(0.7585)">GEORGIA</div>
<div class="t" style="left:581.0px;top:312.89px;font-size:16.2px;font-weight:700;color:#13135c;-webkit-text-stroke:.5px #13135c;transform:scaleX(1.1483)">+150%</div>
<div class="t" style="left:596.0px;top:363.34px;font-size:8.1px;font-weight:700;color:#13135c;-webkit-text-stroke:.25px #13135c;transform:scaleX(0.7729)">FLORIDA</div>
<div class="t" style="left:581.7px;top:375.79px;font-size:16.2px;font-weight:700;color:#13135c;-webkit-text-stroke:.5px #13135c;transform:scaleX(1.1227)">+163%</div>
</body></html>
